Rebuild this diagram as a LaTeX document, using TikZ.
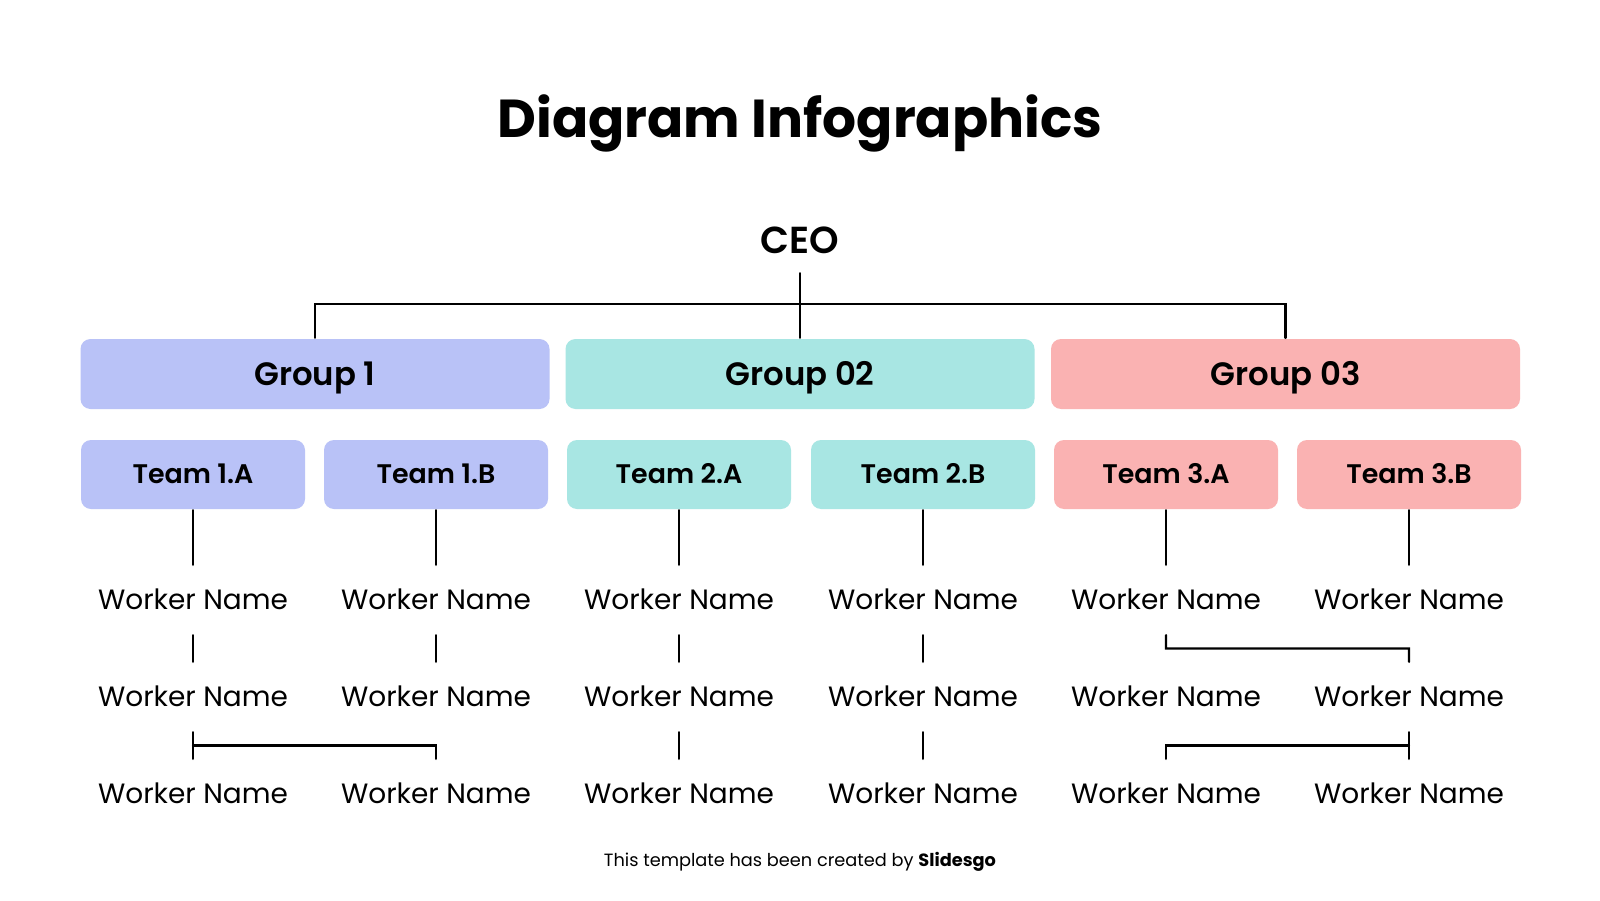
\documentclass[tikz,border=0pt]{standalone}
\usepackage{fontspec}
\setmainfont{Poppins}
\newfontfamily\semib{Poppins SemiBold}
\usepackage{tikz}
\usetikzlibrary{calc}
\usepackage{xcolor}
\definecolor{grpone}{HTML}{B9C2F7}
\definecolor{grptwo}{HTML}{A8E6E3}
\definecolor{grpthree}{HTML}{FAB2B2}

\begin{document}
\begin{tikzpicture}[line width=0.6pt,line cap=round,
  groupbox/.style={rounded corners=0.1cm,minimum width=4.69cm,minimum height=0.70cm,
    inner sep=0pt,text height=6.4pt,text depth=0pt,font=\semib\fontsize{9.2}{10}\selectfont},
  teambox/.style={rounded corners=0.1cm,minimum width=2.24cm,minimum height=0.69cm,
    inner sep=0pt,text height=5.35pt,text depth=0pt,font=\semib\fontsize{7.65}{9}\selectfont},
  worker/.style={minimum height=0.68cm,inner sep=0pt,text height=5.6pt,text depth=0pt,
    font=\fontsize{7.95}{9}\selectfont}]
\useasboundingbox (0,0) rectangle (16,9);
\fill[white] (0,0) rectangle (16,9);
% title and head
\node[font=\bfseries\fontsize{15.2}{18}\selectfont,text height=10.6pt,text depth=0pt] (title) at (8,7.81) {Diagram Infographics};
\node[font=\semib\fontsize{10.7}{13}\selectfont,text height=7.5pt,text depth=0pt,minimum height=0.64cm,inner sep=0pt] (ceo) at (8,6.60) {CEO};
% groups
\node[groupbox,fill=grpone] (g1) at (3.15,5.26) {Group 1};
\node[groupbox,fill=grptwo] (g2) at (8.00,5.26) {Group 02};
\node[groupbox,fill=grpthree] (g3) at (12.855,5.26) {Group 03};
\draw (ceo.south) -- (g2.north);
\draw (g1.north) -- ++(0,0.34) -| (g3.north);
% teams
\node[teambox,fill=grpone] (t1a) at (1.93,4.255) {Team 1.A};
\node[teambox,fill=grpone] (t1b) at (4.36,4.255) {Team 1.B};
\node[teambox,fill=grptwo] (t2a) at (6.79,4.255) {Team 2.A};
\node[teambox,fill=grptwo] (t2b) at (9.23,4.255) {Team 2.B};
\node[teambox,fill=grpthree] (t3a) at (11.66,4.255) {Team 3.A};
\node[teambox,fill=grpthree] (t3b) at (14.09,4.255) {Team 3.B};
% workers, first row
\node[worker] (w1a1) at (1.93,3.00) {Worker Name};
\node[worker] (w1b1) at (4.36,3.00) {Worker Name};
\node[worker] (w2a1) at (6.79,3.00) {Worker Name};
\node[worker] (w2b1) at (9.23,3.00) {Worker Name};
\node[worker] (w3a1) at (11.66,3.00) {Worker Name};
\node[worker] (w3b1) at (14.09,3.00) {Worker Name};
% second row
\node[worker] (w1a2) at (1.93,2.03) {Worker Name};
\node[worker] (w1b2) at (4.36,2.03) {Worker Name};
\node[worker] (w2a2) at (6.79,2.03) {Worker Name};
\node[worker] (w2b2) at (9.23,2.03) {Worker Name};
\node[worker] (w3a2) at (11.66,2.03) {Worker Name};
\node[worker] (w3b2) at (14.09,2.03) {Worker Name};
% third row
\node[worker] (w1a3) at (1.93,1.06) {Worker Name};
\node[worker] (w1b3) at (4.36,1.06) {Worker Name};
\node[worker] (w2a3) at (6.79,1.06) {Worker Name};
\node[worker] (w2b3) at (9.23,1.06) {Worker Name};
\node[worker] (w3a3) at (11.66,1.06) {Worker Name};
\node[worker] (w3b3) at (14.09,1.06) {Worker Name};
% team to first worker
\draw (t1a.south) -- (w1a1.north);
\draw (t1b.south) -- (w1b1.north);
\draw (t2a.south) -- (w2a1.north);
\draw (t2b.south) -- (w2b1.north);
\draw (t3a.south) -- (w3a1.north);
\draw (t3b.south) -- (w3b1.north);
% worker links
\draw (w1a1.south) -- (w1a2.north);
\draw (w1b1.south) -- (w1b2.north);
\draw (w2a1.south) -- (w2a2.north);
\draw (w2b1.south) -- (w2b2.north);
\draw (w3a1.south) -- ($(w3a1.south)!.5!(w3a2.north)$) -| (w3b2.north);
\draw (w1a2.south) -- (w1a3.north);
\draw ($(w1a2.south)!.5!(w1a3.north)$) -| (w1b3.north);
\draw (w2a2.south) -- (w2a3.north);
\draw (w2b2.south) -- (w2b3.north);
\draw (w3b2.south) -- (w3b3.north);
\draw ($(w3b2.south)!.5!(w3b3.north)$) -| (w3a3.north);
% footer
\node[font=\fontsize{5.05}{6}\selectfont] (credit) at (8,0.38) {This template has been created by \textbf{Slidesgo}};
\end{tikzpicture}
\end{document}
